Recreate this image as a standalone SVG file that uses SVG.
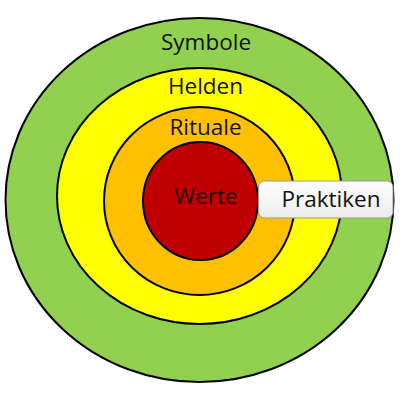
<svg xmlns="http://www.w3.org/2000/svg" width="400" height="400" viewBox="0 0 400 400">
<defs>
<linearGradient id="boxg" x1="0" y1="0" x2="0" y2="1">
<stop offset="0" stop-color="#ffffff"/>
<stop offset="1" stop-color="#ebebeb"/>
</linearGradient>
</defs>
<style>
.ring{stroke:#000;stroke-width:2}
.lbl{font-family:"Open Sans","Noto Sans",sans-serif;font-size:22.5px;fill:#111;text-anchor:middle}
</style>
<rect width="400" height="400" fill="#fff"/>
<g id="symbole">
<ellipse class="ring" cx="199.5" cy="200" rx="194" ry="182" fill="#92d050"/>
<text class="lbl" x="206" y="50">Symbole</text>
</g>
<g id="helden">
<ellipse class="ring" cx="199.5" cy="196" rx="142.5" ry="128" fill="#ffff00"/>
<text class="lbl" x="205.5" y="94">Helden</text>
</g>
<g id="rituale">
<ellipse class="ring" cx="199.5" cy="201" rx="95.5" ry="94" fill="#ffc000"/>
<text class="lbl" x="205.5" y="135">Rituale</text>
</g>
<g id="werte">
<ellipse class="ring" cx="200.5" cy="201" rx="57.5" ry="59" fill="#c00000"/>
<text class="lbl" x="206" y="204" style="fill:#2a0000">Werte</text>
</g>
<g id="praktiken">
<rect x="258.5" y="181" width="134.5" height="37" rx="6" fill="url(#boxg)" stroke="#9a9a9a" stroke-width="1"/>
<text class="lbl" x="331" y="207">Praktiken</text>
</g>
</svg>
